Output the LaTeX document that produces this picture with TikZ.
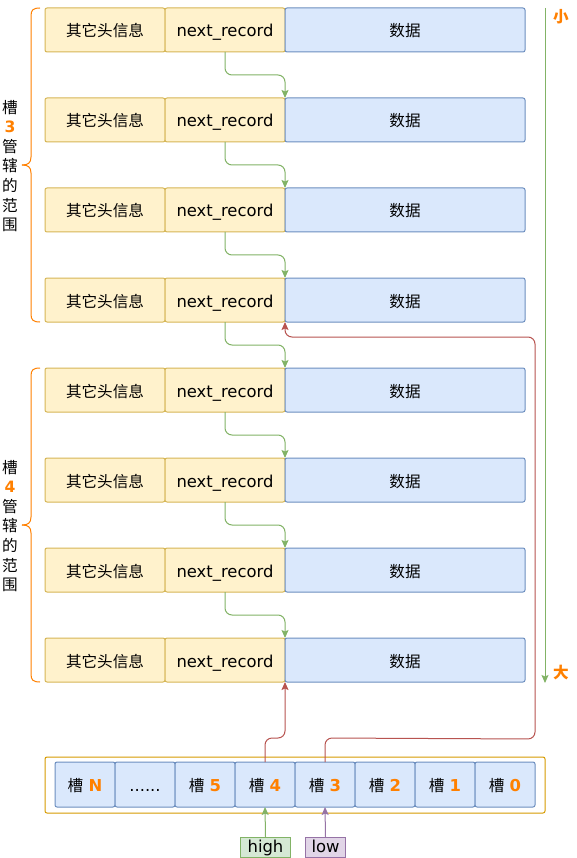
\documentclass[tikz,border=0pt]{standalone}
\usepackage{fontspec}
\setmainfont{DejaVu Sans}
\newfontfamily\cjk{Noto Sans CJK SC}
\newcommand\zh[1]{{\cjk\fontsize{15.6}{18}\selectfont #1}}
\usetikzlibrary{arrows.meta}
\definecolor{yfill}{HTML}{FFF2CC}
\definecolor{ydraw}{HTML}{D6B656}
\definecolor{bfill}{HTML}{DAE8FC}
\definecolor{bdraw}{HTML}{6C8EBF}
\definecolor{gline}{HTML}{82B366}
\definecolor{gfill}{HTML}{D5E8D4}
\definecolor{rline}{HTML}{B85450}
\definecolor{pfill}{HTML}{E1D5E7}
\definecolor{pline}{HTML}{9673A6}
\definecolor{orng}{HTML}{FF8000}
\definecolor{obox}{HTML}{D79B00}
\begin{document}
\begin{tikzpicture}[x=1pt,y=-1pt,
  font=\fontsize{16.4}{18}\selectfont,
  box/.style={draw, rounded corners=2pt, anchor=north west, inner sep=0pt, outer sep=0pt, minimum height=44pt, line width=1pt, text height=14pt, text depth=0pt},
  hdr/.style={box, fill=yfill, draw=ydraw, minimum width=120pt},
  dat/.style={box, fill=bfill, draw=bdraw, minimum width=240pt},
  slotbox/.style={box, fill=bfill, draw=bdraw, minimum width=60pt, minimum height=45pt},
  tagbox/.style={draw, line width=1pt, anchor=north west, minimum height=20pt, inner sep=0pt, text height=12pt, text depth=2pt},
  tip/.style={-{Stealth[length=8pt,width=7pt,inset=1.5pt]}},
  garr/.style={draw=gline, line width=1pt, tip, rounded corners=7pt},
  rarr/.style={draw=rline, line width=1pt, tip, rounded corners=7pt},
  parr/.style={draw=pline, line width=1pt, tip},
  vlab/.style={align=center, font=\cjk\fontsize{15.6}{19.6}\selectfont},
  endlab/.style={font=\cjk\bfseries\fontsize{15.6}{18}\selectfont, text=orng},
  brace/.style={draw=orng, line width=1pt},
]
\useasboundingbox (0,0) rectangle (576,858);
\fill[white] (0,0) rectangle (576,858);

% record rows
\foreach \i in {1,...,8}{
  \pgfmathsetmacro\t{8+90*(\i-1)}
  \node[hdr] (h\i) at (45,\t) {\zh{其它头信息}};
  \node[hdr] (n\i) at (165,\t) {next\_record};
  \node[dat] (d\i) at (285,\t) {\zh{数据}};
}

% next_record links
\foreach \i/\j in {1/2,2/3,3/4,4/5,5/6,6/7,7/8}{
  \draw[garr] (n\i.south) -- ++(0,23) -| (d\j.north west);
}

% order arrow
\coordinate (ta) at (545,8);
\coordinate (tb) at (545,683);
\draw[garr] (ta) -- (tb);
\node[endlab] (small) at (561,17) {小};
\node[endlab] (big) at (561,673) {大};

% braces
\draw[brace] (40,8) .. controls (33,8) and (31,10) .. (31,16) -- (31,157)
  .. controls (31,163) and (28,165) .. (22,165);
\draw[brace] (22,165) .. controls (28,165) and (31,167) .. (31,173) -- (31,314)
  .. controls (31,320) and (33,322) .. (40,322);
\draw[brace] (40,368) .. controls (33,368) and (31,370) .. (31,376) -- (31,517)
  .. controls (31,523) and (28,525) .. (22,525);
\draw[brace] (22,525) .. controls (28,525) and (31,527) .. (31,533) -- (31,674)
  .. controls (31,680) and (33,682) .. (40,682);
\node[vlab] (lab3) at (10,166) {槽\\{\rmfamily\bfseries\color{orng}3}\\管\\辖\\的\\范\\围};
\node[vlab] (lab4) at (10,526) {槽\\{\rmfamily\bfseries\color{orng}4}\\管\\辖\\的\\范\\围};

% slot array
\draw[draw=obox, line width=1pt, rounded corners=2pt] (45,757) rectangle (545,813);
\node[slotbox] (sN) at (55,762) {\zh{槽} {\bfseries\color{orng}N}};
\node[slotbox] (sd) at (115,762) {......};
\node[slotbox] (s5) at (175,762) {\zh{槽} {\bfseries\color{orng}5}};
\node[slotbox] (s4) at (235,762) {\zh{槽} {\bfseries\color{orng}4}};
\node[slotbox] (s3) at (295,762) {\zh{槽} {\bfseries\color{orng}3}};
\node[slotbox] (s2) at (355,762) {\zh{槽} {\bfseries\color{orng}2}};
\node[slotbox] (s1) at (415,762) {\zh{槽} {\bfseries\color{orng}1}};
\node[slotbox] (s0) at (475,762) {\zh{槽} {\bfseries\color{orng}0}};

% slot pointers
\coordinate (ra) at (535,739);
\coordinate (rb) at (535,337);
\draw[rarr] (s4.north) -- ++(0,-24) -| (d8.south west);
\draw[rarr] (s3.north) -- ++(0,-24) -- (ra) -- (rb) -| (d4.south west);

% high / low
\node[tagbox, draw=gline, fill=gfill, minimum width=50pt] (high) at (240,837) {high};
\node[tagbox, draw=pline, fill=pfill, minimum width=40pt] (low) at (305,837) {low};
\draw[garr] (high.north) -- (s4.south);
\draw[parr] (low.north) -- (s3.south);
\end{tikzpicture}
\end{document}
